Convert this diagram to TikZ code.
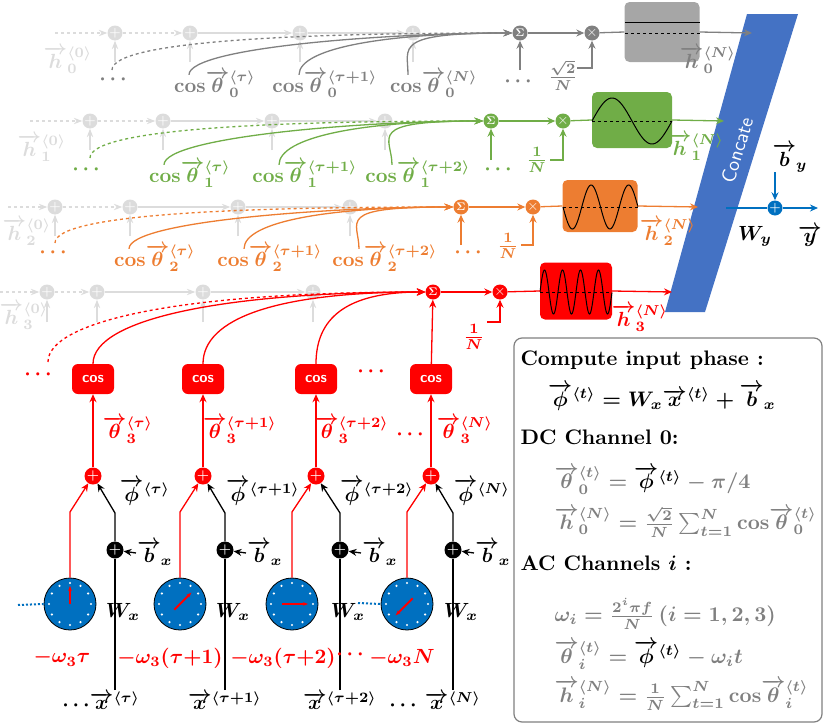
\documentclass[tikz,border=0pt]{standalone}
\usepackage{amsmath}
\usetikzlibrary{arrows.meta}
\definecolor{cg}{HTML}{808080}
\definecolor{cgr}{HTML}{70AD47}
\definecolor{cor}{HTML}{ED7D31}
\definecolor{crd}{HTML}{FF0000}
\definecolor{cfd}{HTML}{DCDCDC}
\definecolor{ccon}{HTML}{4472C4}
\definecolor{cbl}{HTML}{0070C0}
\newcommand\hv{\overrightarrow{\boldsymbol h}}
\newcommand\thv{\overrightarrow{\boldsymbol\theta}}
\newcommand\phv{\overrightarrow{\boldsymbol\phi}}
\newcommand\xv{\overrightarrow{\boldsymbol x}}
\newcommand\bv{\overrightarrow{\boldsymbol b}}
\newcommand\mcos{\mathbf{cos}}
\begin{document}
\begin{tikzpicture}[x=1pt,y=-1pt,
 every node/.style={font=\bfseries\boldmath},
 ar/.style={-{Stealth[length=8pt,width=7pt]},line width=1.3pt},
 ln/.style={line width=1.3pt},
 op/.style={circle,fill=#1,inner sep=0,minimum size=15pt,text=white,font=\fontsize{11}{11}\selectfont\bfseries},
 fop/.style={circle,fill=cfd,inner sep=0,minimum size=15pt,text=white,font=\fontsize{13}{13}\selectfont\bfseries},
 fd/.style={cfd,line width=1.2pt},
 cosb/.style={rounded corners=6pt,fill=crd,text=white,minimum width=42pt,minimum height=30pt,font=\sffamily\fontsize{15}{15}\selectfont\bfseries},
 lab/.style={text=#1,inner sep=0.5pt,scale=2.05},
 tx/.style={scale=2.1,inner sep=1pt},
 cv/.style 2 args={to path={.. controls +(0,-#1) and +(-#2,0) .. (\tikztotarget)}}]
\useasboundingbox (0,0) rectangle (825,728);
% ================= concate
\fill[ccon] (747,14) -- (798,14) -- (705,312) -- (665,312) -- cycle;
\node[text=white,rotate=73,font=\sffamily,scale=2] (cc) at (737,150) {Concate};
% ================= faded backgrounds
\foreach \x/\n in {115/a,190/b,300/c,413/d}{\node[fop] (f0\n) at (\x,33) {+}; \draw[fd,-{Stealth}] (\x,62) -- (f0\n);}
\draw[fd,dashed,-{Stealth}] (55,33) -- (f0a); \draw[fd,dashed,-{Stealth}] (f0a) -- (f0b);
\draw[fd,-{Stealth}] (f0b) -- (f0c); \draw[fd,-{Stealth}] (f0c) -- (f0d);
\node[lab=cfd] (h00) at (68,60) {$\hv_0^{\langle 0\rangle}$};
\foreach \x/\n in {90/a,163/b,272/c,385/d}{\node[fop] (f1\n) at (\x,121) {+}; \draw[fd,-{Stealth}] (\x,150) -- (f1\n);}
\draw[fd,dashed,-{Stealth}] (30,121) -- (f1a); \draw[fd,dashed,-{Stealth}] (f1a) -- (f1b);
\draw[fd,-{Stealth}] (f1b) -- (f1c); \draw[fd,-{Stealth}] (f1c) -- (f1d);
\node[lab=cfd] (h10) at (42,148) {$\hv_1^{\langle 0\rangle}$};
\foreach \x/\n in {55/a,130/b,238/c,350/d}{\node[fop] (f2\n) at (\x,207) {+}; \draw[fd,-{Stealth}] (\x,236) -- (f2\n);}
\draw[fd,dashed,-{Stealth}] (8,207) -- (f2a); \draw[fd,dashed,-{Stealth}] (f2a) -- (f2b);
\draw[fd,-{Stealth}] (f2b) -- (f2c); \draw[fd,-{Stealth}] (f2c) -- (f2d);
\node[lab=cfd] (h20) at (27,232) {$\hv_2^{\langle 0\rangle}$};
\foreach \x/\n in {47/a,97/b,203/c,313/d}{\node[fop] (f3\n) at (\x,292) {+}; \draw[fd,-{Stealth}] (\x,322) -- (f3\n);}
\draw[fd,dashed,-{Stealth}] (0,292) -- (f3a); \draw[fd,dashed,-{Stealth}] (f3a) -- (f3b);
\draw[fd,-{Stealth}] (f3b) -- (f3c); \draw[fd,-{Stealth}] (f3c) -- (f3d);
\node[lab=cfd] (h30) at (24,316) {$\hv_3^{\langle 0\rangle}$};
% ================= row 0 gray
\node[op=cg] (S0) at (520,33) {$\boldsymbol\Sigma$};
\node[op=cg] (M0) at (592,33) {\Large$\times$};
\node[fill=cg!70,rounded corners=5pt,minimum width=75pt,minimum height=60pt] (B0) at (662,32) {};
\draw[line width=1pt] (625,22) -- (700,22); \draw[dashed,line width=0.7pt] (625,33) -- (700,33);
\node[lab=cg] (d0) at (115,80) {$\cdots$};
\node[lab=cg] (c00) at (215,84) {$\mcos\thv_0^{\langle\tau\rangle}$};
\node[lab=cg] (c01) at (325,84) {$\mcos\thv_0^{\langle\tau+1\rangle}$};
\node[lab=cg] (c02) at (434,84) {$\mcos\thv_0^{\langle N\rangle}$};
\draw[cg,ln,dashed,-{Stealth}] (112,70) to[cv={30}{200}] (S0.west);
\foreach \c in {c00,c01,c02}{\draw[cg,ln,-{Stealth}] ([xshift=-26pt,yshift=-6pt]\c.north) to[cv={28}{120}] (S0.west);}
\node[lab=cg] (e0) at (520,82) {$\cdots$};
\draw[cg,ar] (520,70) -- (S0);
\draw[cg,ar] (S0) -- (M0);
\draw[cg,ln] (M0) -- (B0.west);
\draw[cg,ar] (B0.east) -- (752,33);
\node[lab=cg] (k0) at (563,75) {$\frac{\sqrt2}{N}$};
\draw[cg,ar] (577,68) -- (592,68) -- (M0);
\node[lab=cg] (o0) at (708,60) {$\hv_0^{\langle N\rangle}$};
% ================= row 1 green
\node[op=cgr] (S1) at (491,121) {$\boldsymbol\Sigma$};
\node[op=cgr] (M1) at (563,121) {\Large$\times$};
\node[fill=cgr,rounded corners=5pt,minimum width=80pt,minimum height=56pt] (B1) at (632,120) {};
\draw[dashed,line width=0.7pt] (592,121) -- (672,121);
\draw[line width=1pt,domain=0:1,samples=60] plot ({592+80*\x},{121-23*sin(360*\x)});
\node[lab=cgr] (d1) at (88,170) {$\cdots$};
\node[lab=cgr] (c10) at (190,174) {$\mcos\thv_1^{\langle\tau\rangle}$};
\node[lab=cgr] (c11) at (305,174) {$\mcos\thv_1^{\langle\tau+1\rangle}$};
\node[lab=cgr] (c12) at (418,174) {$\mcos\thv_1^{\langle\tau+2\rangle}$};
\draw[cgr,ln,dashed,-{Stealth}] (90,158) to[cv={30}{200}] (S1.west);
\foreach \c in {c10,c11,c12}{\draw[cgr,ln,-{Stealth}] ([xshift=-26pt,yshift=-6pt]\c.north) to[cv={28}{120}] (S1.west);}
\node[lab=cgr] (e1) at (500,170) {$\cdots$};
\draw[cgr,ar] (491,160) -- (S1);
\draw[cgr,ar] (S1) -- (M1);
\draw[cgr,ln] (M1) -- (B1.west);
\draw[cgr,ar] (B1.east) -- (724,121);
\node[lab=cgr] (k1) at (537,160) {$\frac{1}{N}$};
\draw[cgr,ar] (550,160) -- (563,160) -- (M1);
\node[lab=cgr] (o1) at (696,147) {$\hv_1^{\langle N\rangle}$};
% ================= row 2 orange
\node[op=cor] (S2) at (461,207) {$\boldsymbol\Sigma$};
\node[op=cor] (M2) at (533,207) {\Large$\times$};
\node[fill=cor,rounded corners=5pt,minimum width=75pt,minimum height=52pt] (B2) at (600,206) {};
\draw[dashed,line width=0.7pt] (563,207) -- (638,207);
\draw[line width=1pt,domain=0:1,samples=80] plot ({563+75*\x},{207+22*sin(720*\x)});
\node[lab=cor] (d2) at (55,253) {$\cdots$};
\node[lab=cor] (c20) at (155,258) {$\mcos\thv_2^{\langle\tau\rangle}$};
\node[lab=cor] (c21) at (270,258) {$\mcos\thv_2^{\langle\tau+1\rangle}$};
\node[lab=cor] (c22) at (385,258) {$\mcos\thv_2^{\langle\tau+2\rangle}$};
\draw[cor,ln,dashed,-{Stealth}] (55,243) to[cv={30}{200}] (S2.west);
\foreach \c in {c20,c21,c22}{\draw[cor,ln,-{Stealth}] ([xshift=-26pt,yshift=-6pt]\c.north) to[cv={28}{120}] (S2.west);}
\node[lab=cor] (e2) at (470,253) {$\cdots$};
\draw[cor,ar] (461,245) -- (S2);
\draw[cor,ar] (S2) -- (M2);
\draw[cor,ln] (M2) -- (B2.west);
\draw[cor,ar] (B2.east) -- (698,207);
\node[lab=cor] (k2) at (508,246) {$\frac{1}{N}$};
\draw[cor,ar] (521,245) -- (533,245) -- (M2);
\node[lab=cor] (o2) at (668,232) {$\hv_2^{\langle N\rangle}$};
% ================= row 3 red
\node[op=crd] (S3) at (433,292) {$\boldsymbol\Sigma$};
\node[op=crd] (M3) at (500,292) {\Large$\times$};
\node[fill=crd,rounded corners=5pt,minimum width=72pt,minimum height=57pt] (B3) at (576,291) {};
\draw[dashed,line width=0.7pt] (540,292) -- (612,292);
\draw[line width=1pt,domain=0:1,samples=120] plot ({540+72*\x},{292-22*sin(1440*\x)});
\draw[crd,ar] (S3) -- (M3);
\draw[crd,ln] (M3) -- (B3.west);
\draw[crd,ar] (B3.east) -- (672,292);
\node[lab=crd] (k3) at (474,337) {$\frac{1}{N}$};
\draw[crd,ar] (487,322) -- (500,322) -- (M3);
\node[lab=crd] (o3) at (640,318) {$\hv_3^{\langle N\rangle}$};
% ================= lower red part
\foreach \i/\x/\xb/\xc in {1/93/115/70,2/203/225/180,3/316/340/292,4/431/453/407}{
 \node[cosb] (cos\i) at (\x,379) {cos};
 \node[op=crd,minimum size=17pt,font=\fontsize{14}{14}\selectfont\bfseries] (P\i) at (\x,476) {+};
 \node[circle,fill=black,inner sep=0,minimum size=17pt,text=white,font=\fontsize{14}{14}\selectfont\bfseries] (Q\i) at (\xb,550) {+};
 \node[circle,draw=black,line width=0.8pt,fill=cbl,minimum size=52pt,inner sep=0] (K\i) at (\xc,604) {};
 \foreach \a in {0,30,...,330}{\fill[white] (K\i.center) ++(\a:21) circle (1.2);}
 \node[lab=black] (W\i) at (\xb+8,612) {$W_x$};
 \node[lab=black] (bx\i) at (\xb+40,553) {$\bv_x$};
 \draw[ar,black] (bx\i.west) -- (Q\i);
 \draw[crd,ar] (P\i) -- (cos\i);
 \draw[crd,ar] (K\i.north) -- (\xc,512) -- (P\i);
 \coordinate (xt\i) at (\xb,690);
 \draw[ln,black] (xt\i) -- (Q\i);
 \draw[ar,black] (Q\i) -- (\xb,513) -- (P\i);
}
\draw[crd,line width=1.8pt,-{Stealth[length=5pt]}] (K1.center) -- ++(270:18);
\draw[crd,line width=1.8pt,-{Stealth[length=5pt]}] (K2.center) ++(135:8) -- ++(315:24);
\draw[crd,line width=1.8pt,-{Stealth[length=5pt]}] (K3.center) ++(180:10) -- ++(0:26);
\draw[crd,line width=1.8pt,-{Stealth[length=5pt]}] (K4.center) ++(315:8) -- ++(135:24);
\draw[cbl,line width=2pt,dotted] (18,605) -- (K1.west);
\draw[cbl,line width=2pt,dotted] (358,603) -- (K4.west);
\draw[crd,ar] (cos1.north) to[cv={45}{200}] (S3.west);
\draw[crd,ar] (cos2.north) to[cv={45}{150}] (S3.west);
\draw[crd,ar] (cos3.north) to[cv={45}{80}] (S3.west);
\draw[crd,ar] (cos4) -- (S3);
\node[lab=crd] (dr) at (40,375) {$\cdots$};
\draw[crd,ln,dashed,-{Stealth}] (48,362) to[cv={40}{250}] (S3.west);
\node[lab=crd] (dr2) at (373,372) {$\cdots$};
\node[lab=crd] (t1) at (128,430) {$\thv_3^{\langle\tau\rangle}$};
\node[lab=crd] (t2) at (240,430) {$\thv_3^{\langle\tau+1\rangle}$};
\node[lab=crd] (t3) at (352,430) {$\thv_3^{\langle\tau+2\rangle}$};
\node[lab=crd] (dr3) at (412,435) {$\cdots$};
\node[lab=crd] (t4) at (465,430) {$\thv_3^{\langle N\rangle}$};
\node[lab=black] (p1) at (145,492) {$\phv^{\langle\tau\rangle}$};
\node[lab=black] (p2) at (263,492) {$\phv^{\langle\tau+1\rangle}$};
\node[lab=black] (p3) at (377,492) {$\phv^{\langle\tau+2\rangle}$};
\node[lab=black] (p4) at (482,492) {$\phv^{\langle N\rangle}$};
\node[lab=crd] (w1) at (62,658) {$-\omega_3\tau$};
\node[lab=crd] (w2) at (170,658) {$-\omega_3(\tau{+}1)$};
\node[lab=crd] (w3) at (283,658) {$-\omega_3(\tau{+}2)$};
\node[lab=crd] (w0) at (352,655) {$\cdots$};
\node[lab=crd] (w4) at (402,658) {$-\omega_3 N$};
\node[lab=black,anchor=north] (x1) at (xt1) {$\xv^{\langle\tau\rangle}$};
\node[lab=black,anchor=north] (x2) at (xt2) {$\xv^{\langle\tau+1\rangle}$};
\node[lab=black,anchor=north] (x3) at (xt3) {$\xv^{\langle\tau+2\rangle}$};
\node[lab=black,anchor=north] (x4) at (xt4) {$\xv^{\langle N\rangle}$};
\node[lab=black] (dx1) at (78,706) {$\cdots$};
\node[lab=black] (dx2) at (405,706) {$\cdots$};
% ================= output
\node[circle,fill=cbl,inner sep=0,minimum size=15pt,text=white,font=\fontsize{13}{13}\selectfont\bfseries] (Y) at (775,208) {+};
\coordinate (ys) at (726,208); \coordinate (ye) at (818,208);
\draw[cbl,ln] (ys) -- (Y); \draw[cbl,ar] (Y) -- (ye);
\node[lab=black] (by) at (790,158) {$\bv_y$};
\draw[cbl,ar] (775,172) -- (Y);
\node[lab=black] (Wy) at (755,236) {$W_y$};
\node[lab=black] (yy) at (810,236) {$\overrightarrow{\boldsymbol y}$};
% ================= info box
\draw[cg,line width=1.2pt,rounded corners=8pt] (514,338) rectangle (822,722);
\node[tx,anchor=west] (i1) at (518,360) {Compute input phase :};
\node[tx] (i2) at (662,397) {$\phv^{\langle t\rangle}=W_x\xv^{\langle t\rangle}+\bv_x$};
\node[tx,anchor=west] (i3) at (518,437) {DC Channel 0:};
\node[tx,anchor=west,text=cg] (i4) at (552,480) {$\thv_0^{\langle t\rangle}=\textcolor{black}{\phv^{\langle t\rangle}}-\pi/4$};
\node[tx,anchor=west,text=cg] (i5) at (552,522) {$\hv_0^{\langle N\rangle}=\frac{\sqrt2}{N}\sum_{t=1}^{N}\mcos\thv_0^{\langle t\rangle}$};
\node[tx,anchor=west] (i6) at (518,563) {AC Channels $\boldsymbol i$ :};
\node[tx,anchor=west,text=cg] (i7) at (552,614) {$\omega_i=\frac{2^i\pi f}{N}\,(i=1,2,3)$};
\node[tx,anchor=west,text=cg] (i8) at (552,655) {$\thv_i^{\langle t\rangle}=\textcolor{black}{\phv^{\langle t\rangle}}-\omega_i t$};
\node[tx,anchor=west,text=cg] (i9) at (552,695) {$\hv_i^{\langle N\rangle}=\frac{1}{N}\sum_{t=1}^{N}\mcos\thv_i^{\langle t\rangle}$};
\end{tikzpicture}
\end{document}
